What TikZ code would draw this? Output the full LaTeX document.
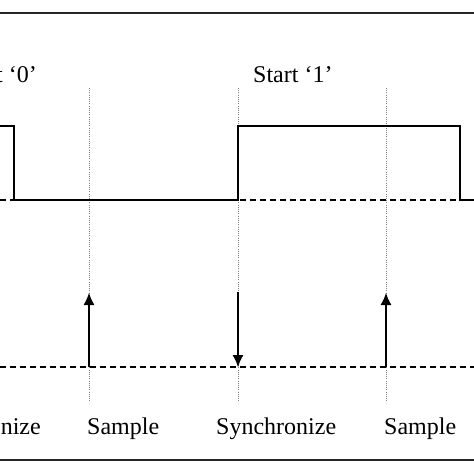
\documentclass[tikz,border=0pt]{standalone}
\usepackage{fontspec}
\setmainfont{Liberation Serif}
\usetikzlibrary{arrows.meta}
\tikzset{
  label text/.style={font=\fontsize{24}{28}\selectfont, inner sep=0pt},
  signal/.style={line width=2.2pt, line join=miter},
  ref line/.style={line width=1.1pt, dash pattern=on 6pt off 4pt},
  marker/.style={gray, line width=0.8pt, dash pattern=on 1pt off 1.2pt},
  event/.style={line width=1.1pt, -{Latex[length=12pt, width=11pt]}}
}
\begin{document}
\begin{tikzpicture}[x=1pt, y=-1pt]
  \useasboundingbox (0,0) rectangle (474,474);
  \clip (0,0) rectangle (474,474);

  % Cadre
  \draw[line width=1.2pt, black!85] (0,13) -- (474,13);
  \draw[line width=1.2pt, black!85] (0,460) -- (474,460);

  % Textes du haut
  \node[label text, anchor=base east] (start0) at (37,82) {Start ‘0’};
  \node[label text, anchor=base west] (start1) at (253,82) {Start ‘1’};

  % Lignes pointillees verticales
  \foreach \x/\n in {89/a, 238/b, 386/c} {
    \coordinate (top\n) at (\x,88);
    \coordinate (bot\n) at (\x,402);
    \draw[marker] (top\n) -- (bot\n);
  }

  % Niveau bas de reference
  \draw[ref line] (0,200) -- (474,200);

  % Signal
  \draw[signal] (0,126) -- (14,126) -- (14,200) -- (238,200) -- (238,126)
    -- (460,126) -- (460,200) -- (474,200);

  % Ligne des evenements
  \draw[ref line] (0,367) -- (474,367);

  % Fleches
  \coordinate (sa) at (89,367);   \coordinate (sa') at (89,293);
  \coordinate (sy) at (238,292);  \coordinate (sy') at (238,367);
  \coordinate (sb) at (386,367);  \coordinate (sb') at (386,293);
  \draw[event] (sa) -- (sa');
  \draw[event] (sy) -- (sy');
  \draw[event] (sb) -- (sb');

  % Textes du bas
  \node[label text, anchor=base east] (sync0) at (41,434) {Synchronize};
  \node[label text, anchor=base west] (sample1) at (87,434) {Sample};
  \node[label text, anchor=base west] (sync1) at (216,434) {Synchronize};
  \node[label text, anchor=base west] (sample2) at (384,434) {Sample};
\end{tikzpicture}
\end{document}
